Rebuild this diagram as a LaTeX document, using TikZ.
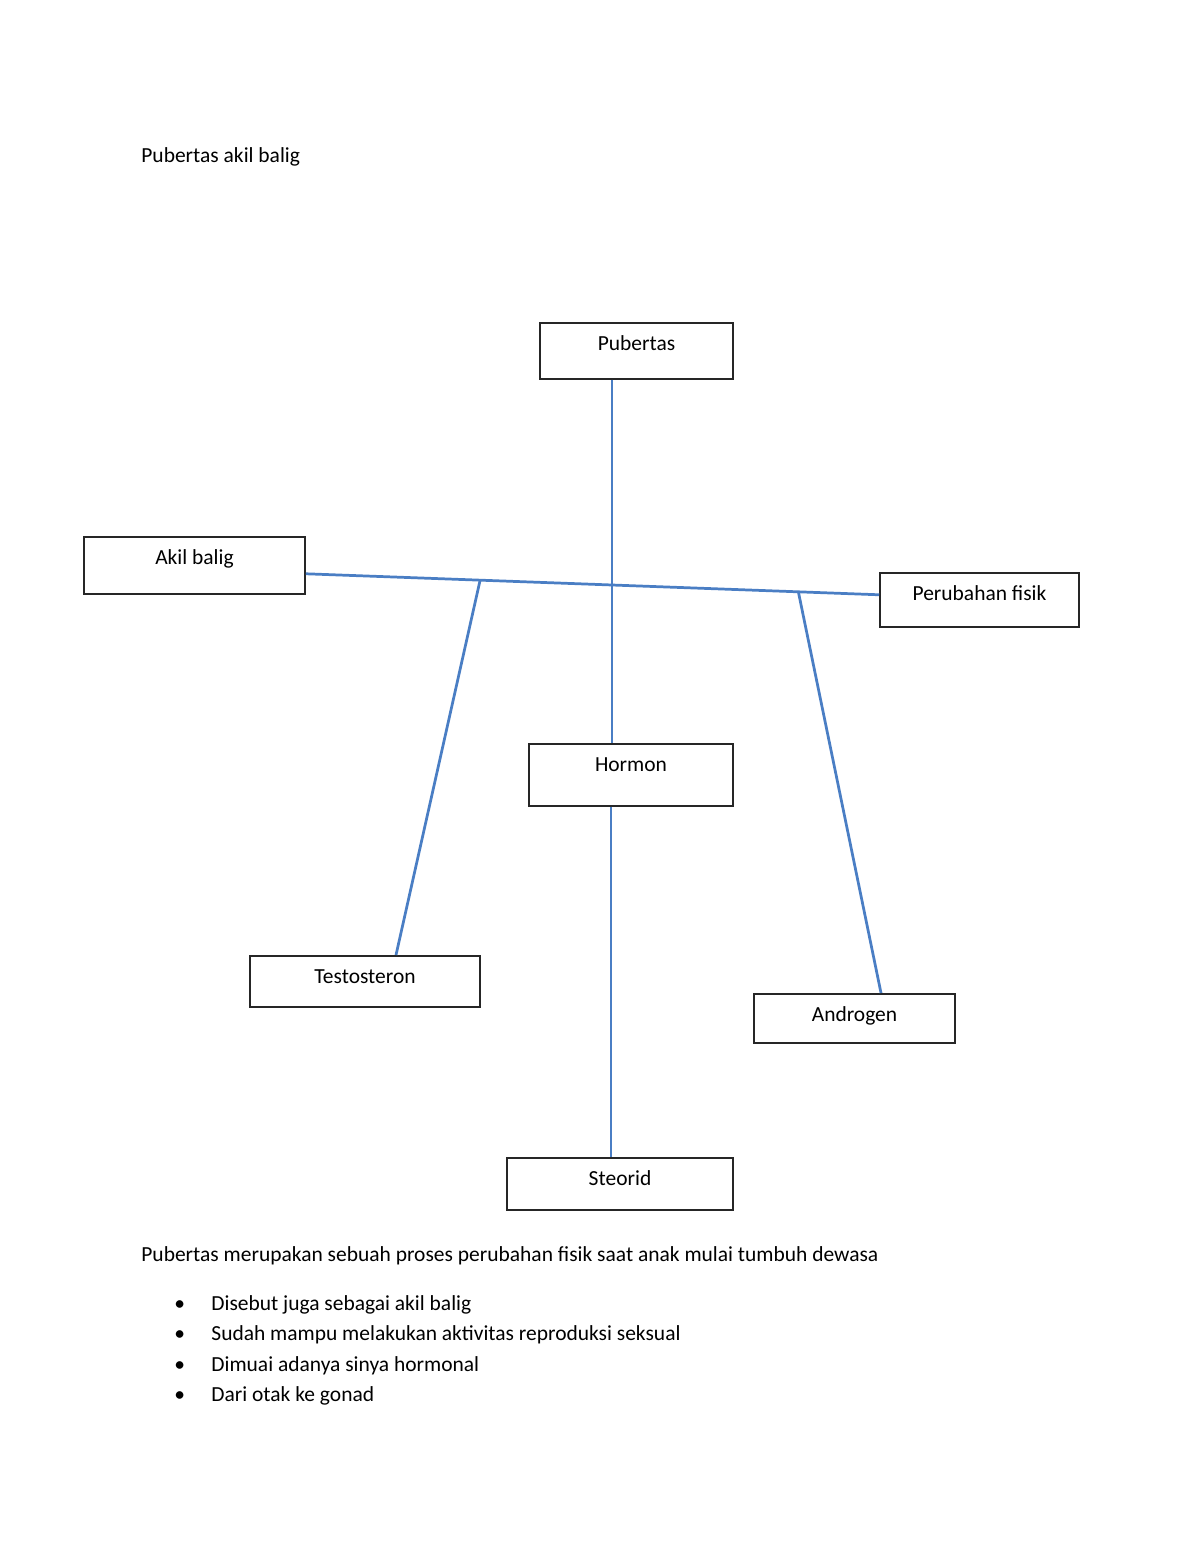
\documentclass[tikz,border=0pt]{standalone}
\usepackage{fontspec}
\setmainfont{Carlito}
\usepackage{tikz}
\usetikzlibrary{calc}
\definecolor{linkblue}{HTML}{4A7EC4}
\tikzstyle{tbox}=[rectangle,draw=black!85,line width=0.8pt,inner sep=0pt,anchor=north,text height=0.504cm]
\tikzstyle{link}=[draw=linkblue,line width=1.4pt]
\tikzstyle{txt}=[anchor=base west,inner sep=0pt,font=\fontsize{11}{13}\selectfont]

\begin{document}
\begin{tikzpicture}[x=0.18mm,y=-0.18mm,font=\fontsize{11}{13}\selectfont]
\fill[white] (0,0) rectangle (1200,1553);
\useasboundingbox (0,0) rectangle (1200,1553);
\node[txt] (title) at (141,163) {Pubertas akil balig};
\node[tbox,minimum width=3.474cm,text depth=0.504cm] (pub) at (636.5,322) {Pubertas};
\node[tbox,minimum width=3.978cm,text depth=0.522cm] (akil) at (194.5,536) {Akil balig};
\node[tbox,minimum width=3.582cm,text depth=0.468cm] (fisik) at (979.5,572) {Perubahan fisik};
\node[tbox,minimum width=3.672cm,text depth=0.612cm] (horm) at (631,743) {Hormon};
\node[tbox,minimum width=4.140cm,text depth=0.414cm] (test) at (365,955) {Testosteron};
\node[tbox,minimum width=3.618cm,text depth=0.378cm] (andr) at (854.5,993) {Androgen};
\node[tbox,minimum width=4.068cm,text depth=0.432cm] (steo) at (620,1157) {Steorid};
\coordinate (hl) at ($(akil.east)+(0,8.5)$);
\coordinate (hr) at ($(fisik.west)+(0,-5)$);
\coordinate (jt) at ($(hl)!0.304!(hr)$);
\coordinate (jc) at ($(hl)!0.534!(hr)$);
\coordinate (ja) at ($(hl)!0.859!(hr)$);
\coordinate (hs) at ($(horm.south)+(-20,0)$);
\draw[link](hl)--(hr);
\draw[link](pub.south -| jc)--(jc)--(horm.north -| jc);
\draw[link](jt)--($(test.north)+(31,0)$);
\draw[link](ja)--($(andr.north)+(26.5,0)$);
\draw[link](hs)--(steo.north -| hs);
\node[txt] (desc) at (141,1261) {Pubertas merupakan sebuah proses perubahan fisik saat anak mulai tumbuh dewasa};
\node[txt] (b1) at (174,1310) {\textbullet};\node[txt] (i1) at (211,1310) {Disebut juga sebagai akil balig};
\node[txt] (b2) at (174,1340) {\textbullet};\node[txt] (i2) at (211,1340) {Sudah mampu melakukan aktivitas reproduksi seksual};
\node[txt] (b3) at (174,1371) {\textbullet};\node[txt] (i3) at (211,1371) {Dimuai adanya sinya hormonal};
\node[txt] (b4) at (174,1401) {\textbullet};\node[txt] (i4) at (211,1401) {Dari otak ke gonad};
\end{tikzpicture}
\end{document}
